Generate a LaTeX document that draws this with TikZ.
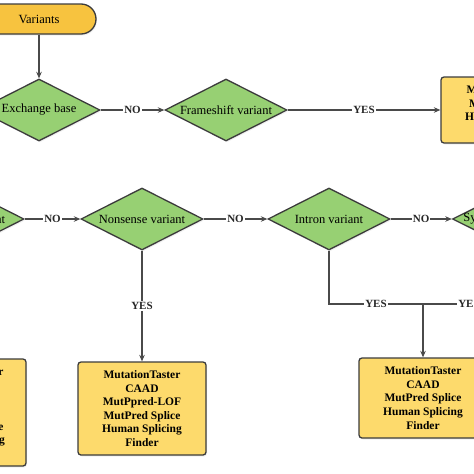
\documentclass[tikz,border=0pt]{standalone}
\usepackage{fontspec}
\setmainfont{Liberation Serif}
\usetikzlibrary{shapes.geometric,arrows.meta,shadows}
\definecolor{linegray}{HTML}{4A4A4A}
\definecolor{bordergray}{HTML}{3C3C3C}
\definecolor{termfill}{HTML}{F7C33F}
\definecolor{boxfill}{HTML}{FDDA6C}
\definecolor{decfill}{HTML}{97D073}
\tikzset{
  decision/.style={diamond, aspect=2, inner sep=0pt, minimum width=122pt, minimum height=62pt,
    draw=bordergray, line width=1.3pt, fill=decfill, font=\fontsize{12.5}{14}\selectfont,
    drop shadow={opacity=0.12, shadow xshift=1pt, shadow yshift=-1.5pt}},
  toolbox/.style={rectangle, rounded corners=3pt, draw=bordergray, line width=1.3pt, fill=boxfill,
    align=center, inner sep=0pt, font=\fontsize{11.5}{13.6}\selectfont\bfseries,
    drop shadow={opacity=0.12, shadow xshift=1pt, shadow yshift=-1.5pt}},
  terminal/.style={rectangle, rounded corners=15pt, draw=bordergray, line width=1.3pt, fill=termfill,
    minimum width=114pt, minimum height=30pt, inner sep=0pt, font=\fontsize{12.5}{14}\selectfont,
    drop shadow={opacity=0.12, shadow xshift=1pt, shadow yshift=-1.5pt}},
  conn/.style={draw=linegray, line width=1.3pt},
  arr/.style={conn, -{Stealth[length=6.5pt,width=5.5pt]}},
  lbl/.style={fill=white, inner sep=1pt, font=\fontsize{11}{13}\selectfont\bfseries, text=black!85},
}
\begin{document}
\begin{tikzpicture}[x=1pt,y=-1pt]
\useasboundingbox (0,0) rectangle (474,474);
\clip (0,0) rectangle (474,474);
\fill[white] (0,0) rectangle (474,474);

% nodes
\node[terminal] (var) at (39,19) {Variants};
\node[decision] (ex) at (39,110) {Exchange base};
\node[decision] (fs) at (226,110) {Frameshift variant};
\node[toolbox, minimum width=128pt, minimum height=66pt] (bfs) at (505,110)
  {MutationTaster\\MutPred-LOF\\Human Splicing\\Finder};

\node[decision] (mis) at (-37,219) {Missense variant};
\node[decision] (ns) at (142,219) {Nonsense variant};
\node[decision] (in) at (329,219) {Intron variant};
\node[decision] (sy) at (515,219) {Synonymous variant};

\node[toolbox, minimum width=122pt, minimum height=107pt] (bmis) at (-35,412.5)
  {MutationTaster\\CAAD\\SIFT\\PolyPhen-2\\MutPred Splice\\Human Splicing\\Finder};
\node[toolbox, minimum width=128pt, minimum height=93pt] (bns) at (142,408.5)
  {MutationTaster\\CAAD\\MutPpred-LOF\\MutPred Splice\\Human Splicing\\Finder};
\node[toolbox, minimum width=128pt, minimum height=80pt] (bin) at (423,398)
  {MutationTaster\\CAAD\\MutPred Splice\\Human Splicing\\Finder};

\coordinate (j) at (423,304);

% connectors
\draw[arr] (var) -- (ex);
\draw[arr] (ex) -- node[lbl] {NO} (fs);
\draw[arr] (fs) -- node[lbl] {YES} (bfs);
\draw[arr] (mis) -- node[lbl] {NO} (ns);
\draw[arr] (ns) -- node[lbl] {NO} (in);
\draw[arr] (in) -- node[lbl] {NO} (sy);
\draw[arr] (ns) -- node[lbl] {YES} (bns);
\draw[conn] (in.south) |- node[lbl, pos=0.75] {YES} (j);
\draw[conn] (sy.south) |- node[lbl, pos=0.75] {YES} (j);
\draw[arr] (j) -- (bin);
\end{tikzpicture}
\end{document}
